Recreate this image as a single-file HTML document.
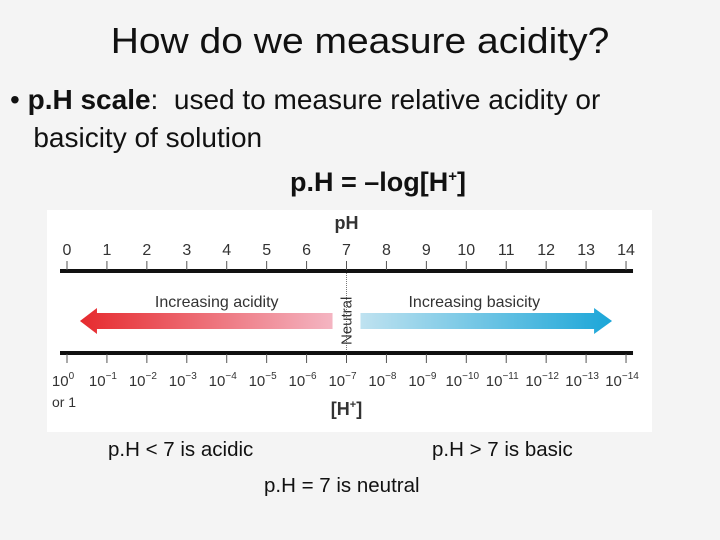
<!DOCTYPE html>
<html><head><meta charset="utf-8"><style>
body{margin:0;width:720px;height:540px;background:#f4f4f4;font-family:"Liberation Sans",sans-serif;overflow:hidden;position:relative;color:#111}
.t{position:absolute;white-space:nowrap}
</style></head><body>
<div class="t" style="left:0;width:720px;text-align:center;top:20px;font-size:39px;transform:scaleY(0.92)">How do we measure acidity?</div>
<div class="t" style="left:10px;top:81px;font-size:28px;line-height:38px">• <b>p.H scale</b>:&nbsp; used to measure relative acidity or<br>&nbsp;&nbsp;&nbsp;basicity of solution</div>
<div class="t" style="left:290px;top:167px;font-size:27px;font-weight:bold">p.H = –log[H<sup style="font-size:15px">+</sup>]</div>
<svg style="position:absolute;left:47px;top:210px" width="605" height="222">
<defs>
<linearGradient id="r" x1="0" x2="1"><stop offset="0" stop-color="#e62a2e"/><stop offset="1" stop-color="#f4b5c2"/></linearGradient>
<linearGradient id="b" x1="0" x2="1"><stop offset="0" stop-color="#bfe2f0"/><stop offset="1" stop-color="#1ba6d8"/></linearGradient>
</defs>
<rect width="605" height="222" fill="#fff"/>
<g id="g" font-family="Liberation Sans" fill="#333"></g>
</svg>
<div class="t" style="left:108px;top:438px;font-size:20.5px">p.H &lt; 7 is acidic</div>
<div class="t" style="left:432px;top:438px;font-size:20.5px">p.H &gt; 7 is basic</div>
<div class="t" style="left:264px;top:474px;font-size:20.5px">p.H = 7 is neutral</div>
<script>
const phTicks=[0,1,2,3,4,5,6,7,8,9,10,11,12,13,14];
const ns="http://www.w3.org/2000/svg",g=document.getElementById('g');
const X=v=>20+v*39.93;
function mk(t,a,txt){const e=document.createElementNS(ns,t);for(const k in a)e.setAttribute(k,a[k]);if(txt!=null)e.textContent=txt;g.appendChild(e);return e;}
let e;
e=mk('text',{x:X(7),y:19,'text-anchor':'middle','font-size':18,'font-weight':'bold'},'pH');


e=mk('rect',{x:X(0)-7,y:59,width:X(14)-X(0)+14,height:4,fill:'#111'});


e=mk('rect',{x:X(0)-7,y:141,width:X(14)-X(0)+14,height:4,fill:'#111'});


e=mk('line',{x1:X(7),x2:X(7),y1:63,y2:141,stroke:'#777','stroke-dasharray':'1 1'});


phTicks.forEach(v=>{
 e=mk('text',{x:X(v),y:45,'text-anchor':'middle','font-size':16},String(v));
 
 
 e=mk('line',{x1:X(v),x2:X(v),y1:51,y2:60,stroke:'#555'});
 
 
 e=mk('line',{x1:X(v),x2:X(v),y1:144,y2:153,stroke:'#555'});
 
 
 e=mk('text',{x:X(v)-4,y:176,'text-anchor':'middle','font-size':15});
 e.innerHTML='10<tspan dy="-7" font-size="10">'+(v?'−'+v:'0')+'</tspan>';
 
 
});
e=mk('text',{x:X(0)-3,y:197,'text-anchor':'middle','font-size':14},'or 1');


e=mk('text',{x:X(7),y:205,'text-anchor':'middle','font-size':18,'font-weight':'bold'});
e.innerHTML='[H<tspan dy="-7" font-size="11">+</tspan><tspan dy="7">]</tspan>';


e=mk('text',{x:X(3.75),y:97,'text-anchor':'middle','font-size':16},'Increasing acidity');


e=mk('text',{x:X(10.2),y:97,'text-anchor':'middle','font-size':16},'Increasing basicity');


e=mk('text',{transform:`translate(${X(7)+5},135) rotate(-90)`,'font-size':15},'Neutral');


e=mk('path',{d:`M${X(0.5)-7} 111 L${X(0.5)+10} 98 V103 H${X(6.65)} V119 H${X(0.5)+10} V124 Z`,fill:'url(#r)'});


e=mk('path',{d:`M${X(7.35)} 103 H${X(13.2)} V98 L${X(13.65)} 111 L${X(13.2)} 124 V119 H${X(7.35)} Z`,fill:'url(#b)'});


</script>
</body></html>
